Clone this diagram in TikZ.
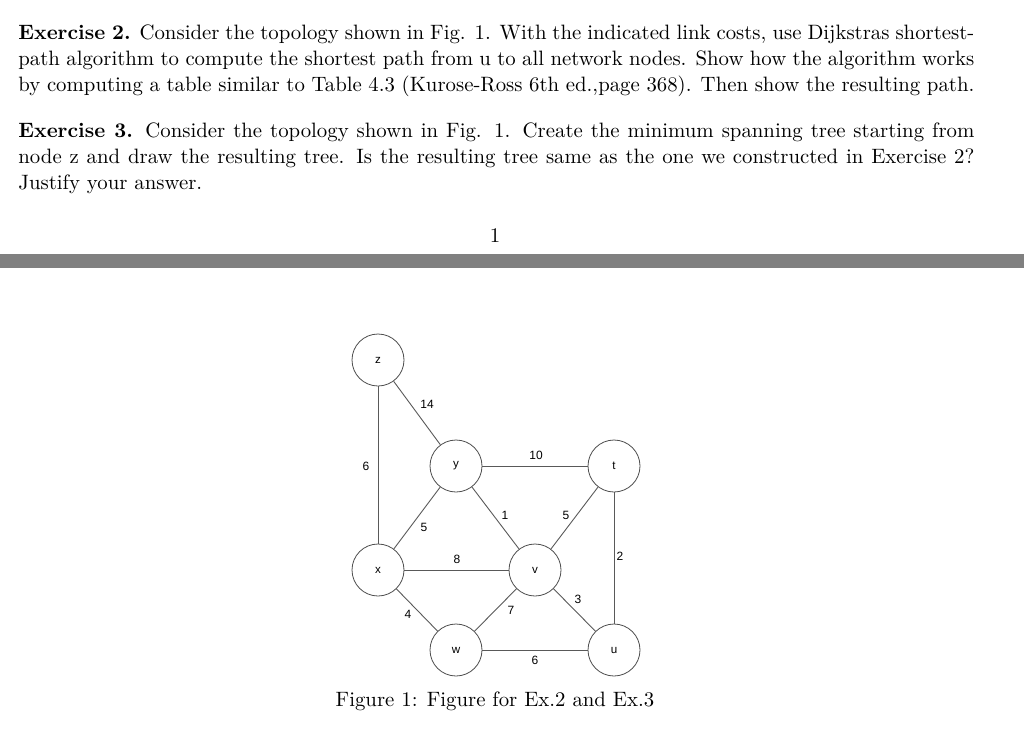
\documentclass[tikz,border=0pt]{standalone}
\usepackage{fontspec}
\newfontfamily\lsans{Liberation Sans}
\begin{document}
\begin{tikzpicture}[x=0.5pt,y=-0.5pt,
  vtx/.style={draw=black!70,circle,minimum size=26pt,inner sep=0pt,font=\lsans\fontsize{5.8}{6}\selectfont},
  ed/.style={draw=black!65,line width=0.45pt},
  lb/.style={font=\lsans\fontsize{6}{6}\selectfont,inner sep=0pt}]
\useasboundingbox (0,0) rectangle (1024,745);
\node[anchor=north west,inner sep=0pt,text width=478pt,align=justify,font=\fontsize{10.4}{13}\selectfont] (ex2) at (18,24)
 {\textbf{Exercise 2.} Consider the topology shown in Fig. 1. With the indicated link costs, use Dijkstras shortest-path algorithm to compute the shortest path from u to all network nodes. Show how the algorithm works by computing a table similar to Table 4.3 (Kurose-Ross 6th ed.,page 368). Then show the resulting path.};
\node[anchor=north west,inner sep=0pt,text width=478pt,align=justify,font=\fontsize{10.4}{13}\selectfont] (ex3) at (18,122)
 {\textbf{Exercise 3.} Consider the topology shown in Fig. 1. Create the minimum spanning tree starting from node z and draw the resulting tree. Is the resulting tree same as the one we constructed in Exercise 2? Justify your answer.};
\node[font=\fontsize{10.4}{12}\selectfont,inner sep=0pt] (pg) at (495,236) {1};
\fill[black!50] (0,254) rectangle (1024,268);
\node[vtx] (z) at (378,360) {z};
\node[vtx] (y) at (456,466) {y};
\node[vtx] (t) at (614,466) {t};
\node[vtx] (x) at (378,570) {x};
\node[vtx] (v) at (535,570) {v};
\node[vtx] (w) at (456,650) {w};
\node[vtx] (u) at (614,650) {u};
\draw[ed] (z)--(x); \draw[ed] (z)--(y); \draw[ed] (y)--(t);
\draw[ed] (y)--(x); \draw[ed] (y)--(v); \draw[ed] (t)--(v);
\draw[ed] (t)--(u); \draw[ed] (x)--(v); \draw[ed] (x)--(w);
\draw[ed] (v)--(w); \draw[ed] (v)--(u); \draw[ed] (w)--(u);
\node[lb] (l1) at (366,466) {6};
\node[lb] (l2) at (427,404) {14};
\node[lb] (l3) at (536,455) {10};
\node[lb] (l4) at (424,527) {5};
\node[lb] (l5) at (505,515) {1};
\node[lb] (l6) at (566,515) {5};
\node[lb] (l7) at (620,556) {2};
\node[lb] (l8) at (457,559) {8};
\node[lb] (l9) at (408,614) {4};
\node[lb] (l10) at (511,610) {7};
\node[lb] (l11) at (578,599) {3};
\node[lb] (l12) at (535,660) {6};
\node[font=\fontsize{10.4}{12}\selectfont,inner sep=0pt] (cap) at (495,701) {Figure 1: Figure for Ex.2 and Ex.3};
\end{tikzpicture}
\end{document}
